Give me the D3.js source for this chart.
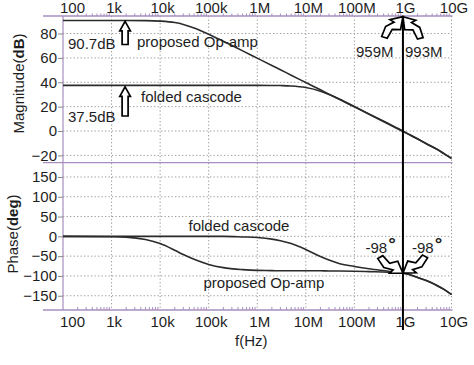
<!DOCTYPE html>
<html>
<head>
<meta charset="utf-8">
<script src="https://cdn.jsdelivr.net/npm/d3@7"></script>
<style>
  html, body { margin: 0; padding: 0; background: #fff; }
  svg { display: block; font-family: "Liberation Sans", Arial, sans-serif; }
</style>
</head>
<body>
<svg id="chart" width="474" height="365"></svg>
<script>
// ---------------- DATA ----------------
const freqTicks = [1e2, 1e3, 1e4, 1e5, 1e6, 1e7, 1e8, 1e9, 1e10];
const freqTickLabels = ["100", "1k", "10k", "100k", "1M", "10M", "100M", "1G", "10G"];
const magTicks = [-20, 0, 20, 40, 60, 80];
const phaseTicks = [-150, -100, -50, 0, 50, 100, 150];

const freqs = [1e2, 1e3, 2e3, 5e3, 1e4, 2e4, 3e4, 5e4, 1e5, 2e5, 5e5, 1e6, 2e6, 3e6, 5e6,
               1e7, 2e7, 3e7, 5e7, 1e8, 2e8, 5e8, 1e9, 1.4e9, 2e9, 3.2e9, 5e9, 7e9, 1e10];

const magProposed = [90.7, 90.7, 90.7, 90.6, 90.2, 89.0, 87.5, 84.6, 79.5, 73.7, 65.8, 59.8, 53.8, 50.3, 45.8,
                     39.8, 33.8, 30.3, 25.8, 19.8, 13.8, 5.8, -0.4, -3.4, -6.6, -11.0, -15.0, -18.6, -22.5];
const magFolded   = [37.5, 37.5, 37.5, 37.5, 37.5, 37.5, 37.5, 37.5, 37.5, 37.5, 37.5, 37.5, 37.4, 37.3, 37.0,
                     35.7, 32.7, 30.0, 26.1, 20.1, 14.1, 6.1, 0.0, -3.1, -6.4, -10.8, -14.9, -18.5, -22.5];

const phaseProposed = [0, -1, -2, -8, -18, -35, -46, -58, -71, -79, -84, -86, -86.5, -87, -87,
                       -87, -87, -87.5, -87.5, -88, -89, -90.5, -93, -97, -104, -113, -124, -134, -147];
const phaseFolded   = [0, 0, 0, 0, 0, 0, 0, 0, 0, 0, -1.5, -3, -7, -11, -18,
                       -33, -51, -60, -69, -76, -82, -88, -93, -97, -104, -113, -124, -134, -147];

const markerFreq = 1e9;
const arrowFreq = 1.9e3;

// ---------------- LAYOUT ----------------
const svg = d3.select("#chart");
const L = 63, R = 451.5, T = 16, MID = 162.7, B = 310;
const x = d3.scaleLog().domain([1e2, 1e10]).range([L, R]);
const yM = d3.scaleLinear().domain([-26, 94.4]).range([MID, T]);
const yP = d3.scaleLinear().domain([-186, 186]).range([B, MID]);

const FONT = 15;
const gridCol = "#9a9a9a", axisCol = "#a68fbe", ink = "#1e1e1e";

// gridlines
const grid = svg.append("g");
freqTicks.slice(1).forEach(f => {
  grid.append("line").attr("x1", x(f)).attr("x2", x(f)).attr("y1", T).attr("y2", B)
    .attr("stroke", gridCol).attr("stroke-width", 1).attr("stroke-dasharray", "1.3,2.2");
});
magTicks.forEach(v => {
  grid.append("line").attr("x1", L).attr("x2", R).attr("y1", yM(v)).attr("y2", yM(v))
    .attr("stroke", gridCol).attr("stroke-width", 1).attr("stroke-dasharray", "1.3,2.2");
});
phaseTicks.forEach(v => {
  grid.append("line").attr("x1", L).attr("x2", R).attr("y1", yP(v)).attr("y2", yP(v))
    .attr("stroke", gridCol).attr("stroke-width", 1).attr("stroke-dasharray", "1.3,2.2");
});

// frame lines (purple)
[T, MID, B].forEach(yy => {
  svg.append("line").attr("x1", 43).attr("x2", R + 1).attr("y1", yy).attr("y2", yy)
    .attr("stroke", axisCol).attr("stroke-width", 1.3);
});
svg.append("line").attr("x1", L).attr("x2", L).attr("y1", T).attr("y2", B)
  .attr("stroke", axisCol).attr("stroke-width", 1.2);

// minor log ticks on top and bottom axes
const minor = [];
for (let d = 2; d < 10; d++) for (let e = 2; e < 10; e++) minor.push(d * Math.pow(10, e));
minor.forEach(f => {
  svg.append("line").attr("x1", x(f)).attr("x2", x(f)).attr("y1", T - 2.5).attr("y2", T)
    .attr("stroke", axisCol).attr("stroke-width", 1);
  svg.append("line").attr("x1", x(f)).attr("x2", x(f)).attr("y1", B - 3).attr("y2", B)
    .attr("stroke", axisCol).attr("stroke-width", 1);
});

// x axes labels
function styleX(g) {
  g.select(".domain").remove();
  g.selectAll(".tick line").remove();
  g.selectAll(".tick text").attr("font-size", FONT).attr("fill", ink)
    .attr("font-family", "Liberation Sans, Arial, sans-serif")
    .attr("dx", (d, i) => i === 0 ? 9 : 2);
}
svg.append("g").attr("transform", `translate(0,${T})`)
  .call(d3.axisTop(x).tickValues(freqTicks).tickFormat((d, i) => freqTickLabels[i]).tickSize(0).tickPadding(3))
  .call(styleX);
svg.append("g").attr("transform", `translate(0,${B})`)
  .call(d3.axisBottom(x).tickValues(freqTicks).tickFormat((d, i) => freqTickLabels[i]).tickSize(0).tickPadding(6))
  .call(styleX);

// y axes
function styleY(g) {
  g.select(".domain").remove();
  g.selectAll(".tick line").attr("stroke", "#8a8a8a");
  g.selectAll(".tick text").attr("font-size", FONT).attr("fill", ink)
    .attr("font-family", "Liberation Sans, Arial, sans-serif");
}
svg.append("g").attr("transform", `translate(${L},0)`)
  .call(d3.axisLeft(yM).tickValues(magTicks).tickSize(5).tickPadding(1)).call(styleY);
svg.append("g").attr("transform", `translate(${L},0)`)
  .call(d3.axisLeft(yP).tickValues(phaseTicks).tickSize(5).tickPadding(1)).call(styleY);

// curves
function drawCurve(vals, yScale) {
  const line = d3.line().x((d, i) => x(freqs[i])).y(d => yScale(d)).curve(d3.curveMonotoneX);
  svg.append("path").attr("d", line(vals)).attr("fill", "none")
    .attr("stroke", "#2b2b2b").attr("stroke-width", 1.6);
}
drawCurve(magFolded, yM);
drawCurve(magProposed, yM);
drawCurve(phaseFolded, yP);
drawCurve(phaseProposed, yP);

// vertical marker at 1G
svg.append("line").attr("x1", x(markerFreq)).attr("x2", x(markerFreq)).attr("y1", T).attr("y2", 330)
  .attr("stroke", "#000").attr("stroke-width", 2);

// arrows
function upArrow(cx, yTop, yBot) {
  const p = `M${cx},${yTop} L${cx + 5.3},${yTop + 9.5} L${cx + 3},${yTop + 9.5} L${cx + 3},${yBot} L${cx - 3},${yBot} L${cx - 3},${yTop + 9.5} L${cx - 5.3},${yTop + 9.5} Z`;
  svg.append("path").attr("d", p).attr("fill", "#fff").attr("stroke", "#000").attr("stroke-width", 1.7)
    .attr("stroke-linejoin", "miter");
}
upArrow(x(arrowFreq), yM(magProposed[0]) + 0.8, 44.5);
upArrow(x(arrowFreq), yM(magFolded[0]) + 1.5, 116);

const bolt = [[0,0],[-11,-7.5],[-10,-2.8],[-19,-6],[-29,-2],[-26.5,3.2],[-16.5,0.8],[-11,7]];
function boltArrow(ax, ay, angle, mirror) {
  svg.append("path").attr("d", "M" + bolt.map(p => p.join(",")).join("L") + "Z")
    .attr("transform", `translate(${ax},${ay}) rotate(${angle}) scale(1,${mirror ? -1 : 1})`)
    .attr("fill", "#fff").attr("stroke", "#000").attr("stroke-width", 1.7).attr("stroke-linejoin", "miter");
}
const gx = x(markerFreq);
boltArrow(gx, T + 0.7, -47, false);
boltArrow(gx, T + 0.7, -130, true);
boltArrow(gx, yP(phaseProposed[22]), 34, true);
boltArrow(gx, yP(phaseProposed[22]), 144, false);

// annotation texts
function txt(s, tx, ty, anchor) {
  return svg.append("text").attr("x", tx).attr("y", ty).attr("font-size", FONT).attr("fill", ink)
    .attr("text-anchor", anchor || "start").text(s);
}
txt("90.7dB", 68, 48.5);
txt("proposed Op-amp", 137, 47);
txt("folded cascode", 141, 102);
txt("37.5dB", 68, 121.5);
txt("959M", 356, 56.5);
txt("993M", 405, 56.5);
txt("folded cascode", 188.5, 230.5);
txt("proposed Op-amp", 203.5, 288);
const d1 = txt("-98", 365.5, 253);
d1.append("tspan").attr("dy", -3).attr("dx", 1).attr("font-size", 19).attr("font-weight", "bold").text("°");
const d2 = txt("-98", 412, 253);
d2.append("tspan").attr("dy", -3).attr("dx", 1).attr("font-size", 19).attr("font-weight", "bold").text("°");
txt("f(Hz)", 235, 346);

// axis titles
const t1 = svg.append("text").attr("transform", "translate(24,83.5) rotate(-90)")
  .attr("text-anchor", "middle").attr("font-size", FONT).attr("fill", ink);
t1.append("tspan").text("Magnitude(");
t1.append("tspan").attr("font-weight", "bold").text("dB");
t1.append("tspan").text(")");
const t2 = svg.append("text").attr("transform", "translate(17.5,234) rotate(-90)")
  .attr("text-anchor", "middle").attr("font-size", FONT).attr("fill", ink);
t2.append("tspan").text("Phase(");
t2.append("tspan").attr("font-weight", "bold").text("deg");
t2.append("tspan").text(")");
</script>
</body>
</html>
